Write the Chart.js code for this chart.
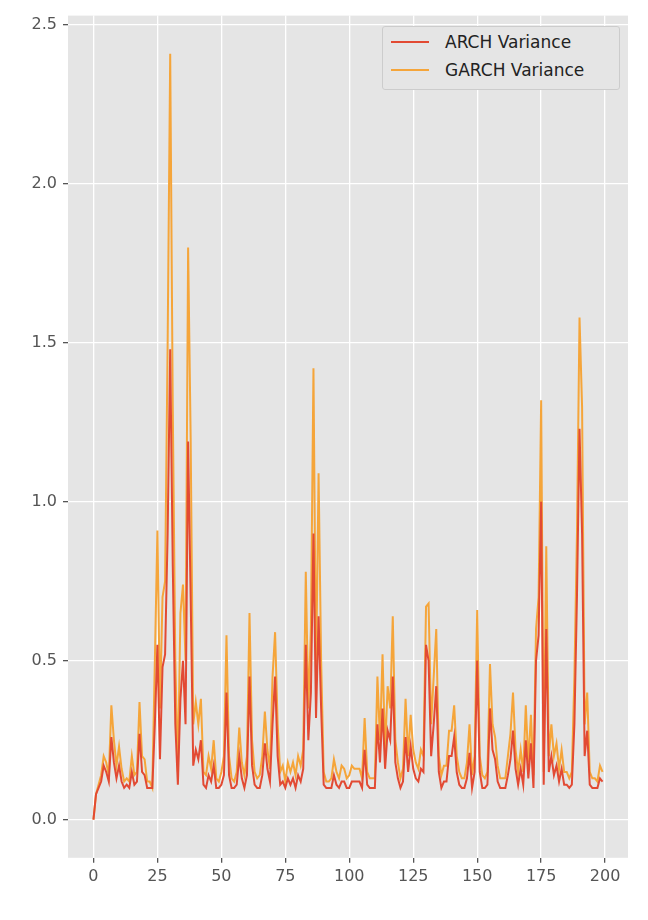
<!DOCTYPE html><html><head><script src="https://cdn.jsdelivr.net/npm/chart.js@4"></script>
<style>body{margin:0;background:#fff;font-family:"DejaVu Sans"}#w{position:relative;width:648px;height:920px}
#lg{position:absolute;left:382px;top:26px;width:236px;height:62px;background:#e5e5e5;border:1px solid #ccc;border-radius:3px;font-size:17px;color:#222}
.r{position:absolute;left:8px;display:flex;align-items:center}.r span{display:inline-block;width:38px;height:2.5px;margin-right:16px}</style></head><body>
<div id="w"><canvas id="c" width="648" height="920"></canvas>
<div id="lg"><div class="r" style="top:5px"><span style="background:#e24a33"></span>ARCH Variance</div><div class="r" style="top:33px"><span style="background:#f5a53a"></span>GARCH Variance</div></div></div>
<script>
const garch=[0,0.08,0.11,0.14,0.2,0.18,0.14,0.36,0.25,0.17,0.23,0.16,0.12,0.13,0.12,0.2,0.14,0.15,0.37,0.2,0.19,0.12,0.12,0.1,0.5,0.91,0.35,0.7,0.75,1.5,2.41,1.3,0.5,0.15,0.65,0.74,0.5,1.8,1.2,0.3,0.37,0.3,0.38,0.15,0.14,0.2,0.16,0.25,
0.13,0.12,0.15,0.2,0.58,0.2,0.13,0.12,0.15,0.29,0.18,0.14,0.2,0.65,0.25,0.15,0.13,0.14,0.2,0.34,0.22,0.16,0.45,0.59,0.3,0.15,0.17,0.12,0.18,0.15,0.18,0.14,0.2,0.17,0.22,0.78,0.35,0.6,1.42,0.45,1.09,0.5,0.15,0.12,0.12,0.13,0.19,0.15,0.13,0.17,0.16,0.13,0.14,0.17,0.16,0.16,0.16,0.13,0.32,0.15,0.13,0.13,0.13,0.45,0.25,0.52,0.22,0.42,0.35,0.64,0.25,0.18,0.13,0.16,0.38,0.2,0.33,0.22,0.18,0.16,0.22,0.2,0.67,0.68,0.3,0.45,0.6,0.2,0.14,0.17,0.17,0.28,0.28,0.36,0.2,0.15,0.13,0.13,0.18,0.3,0.14,0.2,0.66,0.2,0.14,0.13,0.15,0.49,0.3,0.26,0.17,0.13,0.13,0.13,0.2,0.27,0.4,0.22,0.15,0.22,0.15,0.36,0.18,0.33,0.14,0.6,0.7,1.32,0.15,0.86,0.2,0.3,0.2,0.24,0.16,0.22,0.15,0.15,0.13,0.15,0.45,0.9,1.58,1.3,0.3,0.4,0.15,0.13,0.13,0.12,0.17,0.15];
const arch=[0,0.08,0.1,0.12,0.17,0.15,0.12,0.26,0.18,0.13,0.17,0.12,0.1,0.11,0.1,0.15,0.11,0.12,0.27,0.15,0.14,0.1,0.1,0.1,0.3,0.55,0.19,0.48,0.52,0.9,1.48,0.8,0.3,0.11,0.38,0.5,0.3,1.19,0.7,0.17,0.22,0.19,0.25,0.11,0.1,0.14,0.12,0.17,
0.1,0.1,0.11,0.14,0.4,0.14,0.1,0.1,0.11,0.2,0.13,0.1,0.14,0.45,0.17,0.11,0.1,0.1,0.14,0.24,0.16,0.12,0.3,0.45,0.2,0.11,0.12,0.1,0.13,0.11,0.13,0.1,0.14,0.12,0.16,0.55,0.25,0.4,0.9,0.32,0.64,0.35,0.11,0.1,0.1,0.1,0.14,0.11,0.1,0.12,0.12,0.1,0.1,0.12,0.12,0.12,0.12,0.1,0.22,0.11,0.1,0.1,0.1,0.3,0.18,0.35,0.16,0.28,0.25,0.45,0.18,0.13,0.1,0.12,0.26,0.15,0.23,0.16,0.13,0.12,0.16,0.15,0.55,0.5,0.2,0.3,0.42,0.15,0.1,0.12,0.12,0.2,0.2,0.26,0.15,0.11,0.1,0.1,0.13,0.21,0.1,0.15,0.5,0.15,0.1,0.1,0.11,0.35,0.22,0.19,0.12,0.1,0.1,0.1,0.14,0.19,0.28,0.16,0.11,0.16,0.11,0.25,0.13,0.24,0.1,0.5,0.58,1.0,0.11,0.6,0.15,0.2,0.14,0.17,0.12,0.16,0.11,0.11,0.1,0.11,0.3,0.7,1.23,0.9,0.2,0.28,0.11,0.1,0.1,0.1,0.13,0.12];
const xs=garch.map((_,i)=>i);
const bg={id:'bg',beforeDraw(c){const a=c.chartArea,x=c.ctx;x.fillStyle='#e5e5e5';x.fillRect(a.left,a.top,a.right-a.left,a.bottom-a.top);}};
const tk={color:'#555',font:{size:16,family:'DejaVu Sans'}};
new Chart(document.getElementById('c'),{type:'line',data:{datasets:[
{label:'ARCH Variance',data:xs.map(i=>({x:i,y:arch[i]})),borderColor:'#e24a33',borderWidth:2,pointRadius:0,tension:0},
{label:'GARCH Variance',data:xs.map(i=>({x:i,y:garch[i]})),borderColor:'#f5a53a',borderWidth:2,pointRadius:0,tension:0}]},
options:{responsive:false,animation:false,layout:{padding:{left:0,right:20,top:14,bottom:30}},plugins:{legend:{display:false},tooltip:{enabled:false}},
scales:{x:{type:'linear',min:-9.95,max:208.95,afterBuildTicks(a){a.ticks=[0,25,50,75,100,125,150,175,200].map(v=>({value:v}));},ticks:{...tk,padding:4},grid:{color:'#fff',lineWidth:1.3,tickColor:'#555',tickLength:5},border:{display:false}},
y:{min:-0.12,max:2.53,afterBuildTicks(a){a.ticks=[0,0.5,1,1.5,2,2.5].map(v=>({value:v}));},ticks:{...tk,callback:v=>v.toFixed(1),padding:6},grid:{color:'#fff',lineWidth:1.3,tickColor:'#555',tickLength:5},border:{display:false},afterFit(a){a.width=68;}}}},plugins:[bg]});
</script></body></html>
